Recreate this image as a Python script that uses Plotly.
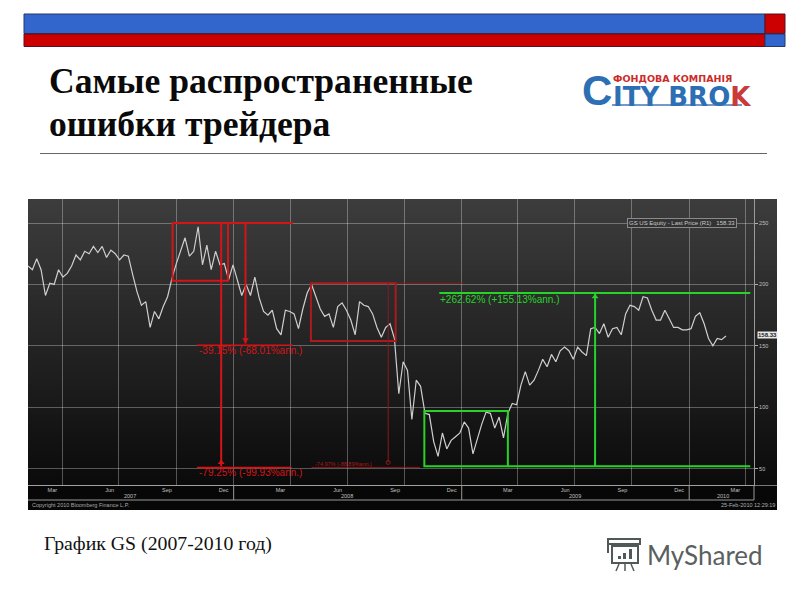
import pandas as pd
import plotly.graph_objects as go

W, H = 800, 600

# Weekly closing prices (GS US Equity)
week_start = "2007-02-05"
prices = [
    215, 212, 221, 212, 191, 201, 200, 212, 206, 209,
    215, 224, 220, 227, 225, 231, 226, 231, 222, 228,
    225, 220, 224, 223, 208, 194, 183, 186, 165, 178,
    172, 182, 190, 205, 217, 227, 238, 223, 227, 247,
    216, 232, 212, 227, 216, 217, 204, 216, 204, 191,
    200, 191, 206, 189, 178, 175, 179, 164, 159, 179,
    178, 176, 164, 180, 193, 200, 190, 180, 174, 176,
    165, 182, 185, 179, 171, 159, 186, 183, 182, 176,
    165, 157, 165, 168, 156, 111, 137, 130, 90, 122,
    117, 95, 94, 72, 60, 79, 66, 73, 76, 79,
    88, 83, 62, 75, 86, 96, 95, 83, 92, 75,
    95, 103, 102, 118, 129, 118, 122, 130, 139, 133,
    143, 137, 146, 149, 146, 139, 149, 145, 142, 164,
    165, 160, 168, 157, 164, 165, 159, 176, 183, 182,
    179, 190, 189, 179, 171, 171, 179, 172, 165, 165,
    163, 163, 164, 174, 177, 168, 156, 150, 156, 155, 158,
]
dates = pd.date_range(week_start, periods=len(prices), freq="7D")

grid_dates = ["2007-04-01", "2007-07-01", "2007-10-01", "2008-01-01", "2008-04-01", "2008-07-01",
              "2008-10-01", "2009-01-01", "2009-04-01", "2009-07-01", "2009-10-01", "2010-01-01", "2010-04-01"]
month_dates = ["2007-03-16", "2007-06-16", "2007-09-16", "2007-12-16", "2008-03-16", "2008-06-16",
               "2008-09-16", "2008-12-16", "2009-03-16", "2009-06-16", "2009-09-16", "2009-12-16", "2010-03-16"]
month_labels = ["Mar", "Jun", "Sep", "Dec"] * 3 + ["Mar"]
year_labels = ["2007", "2008", "2009", "2010"]
year_dates = ["2007-07-19", "2008-07-01", "2009-07-01", "2010-02-25"]
year_bounds = ["2008-01-01", "2009-01-01", "2010-01-01"]
price_ticks = [50, 100, 150, 200, 250]

RED = "#d31518"
DARK_RED = "#ac1a1e"
THIN_RED = "#8a1a1c"
GREEN = "#27d327"

# (x0, x1, y0, y1, colour, width) annotation segments the analyst drew, in date/price terms
rects = [
    ("2007-09-25", "2007-12-23", 203, 250, RED, 2),
    ("2008-05-04", "2008-09-17", 154, 201, DARK_RED, 2),
    ("2008-11-02", "2009-03-16", 52, 97, GREEN, 2),
]
segments = [
    ("2007-12-23", "2008-04-05", 250, 250, RED, 2),
    ("2007-12-12", "2007-12-12", 250, 52, RED, 2),
    ("2008-01-20", "2008-01-20", 250, 152, RED, 2),
    ("2007-11-03", "2008-04-05", 150.5, 150.5, RED, 1.5),
    ("2007-11-03", "2008-04-03", 51, 51, RED, 1.5),
    ("2008-09-17", "2009-01-04", 201, 201, THIN_RED, 1),
    ("2008-09-05", "2008-09-05", 201, 55, THIN_RED, 1),
    ("2008-05-05", "2008-10-26", 51, 51, THIN_RED, 1),
    ("2009-03-16", "2010-04-09", 52, 52, GREEN, 2),
    ("2008-11-26", "2010-04-09", 193, 193, GREEN, 2),
    ("2009-08-03", "2009-08-03", 52, 193, GREEN, 2),
]

def px(x):
    return x / W

def py(y):
    return 1 - y / H

shapes = []

def paper_rect(x0, y0, x1, y1, fill, line=None, width=0, layer="below"):
    shapes.append(dict(type="rect", xref="paper", yref="paper", x0=px(x0), x1=px(x1), y0=py(y1), y1=py(y0),
                       fillcolor=fill, line=dict(color=line or fill, width=width), layer=layer))

def paper_line(x0, y0, x1, y1, color, width=1, layer="below"):
    shapes.append(dict(type="line", xref="paper", yref="paper", x0=px(x0), x1=px(x1), y0=py(y0), y1=py(y1),
                       line=dict(color=color, width=width), layer=layer))

# slide header bars
paper_rect(24, 14, 765, 33.5, "#3366cc", "#223a66", 1)
paper_rect(24, 34, 765, 46.5, "#cc0000", "#5a1020", 1)
paper_rect(765, 14, 785, 33.5, "#cc0000", "#5a1020", 1)
paper_rect(765, 34, 785, 46.5, "#3366cc", "#223a66", 1)
paper_line(40, 153.5, 767, 153.5, "#666666", 1)

# chart panel with vertical dark gradient (each strip runs to the bottom, painted in order)
STRIPS = 48
top, bottom = 199, 486
for i in range(STRIPS):
    t = i / (STRIPS - 1)
    v = int(round(60 + (11 - 60) * t))
    y0 = top + (bottom - top) * i / STRIPS
    paper_rect(28, round(y0), 777, bottom, f"rgb({v},{v},{v})")
paper_rect(28, 486, 777, 510, "#070707")
paper_line(28, 500, 754, 500, "#9a9a9a", 1)
paper_line(754, 485, 754, 500, "#9a9a9a", 1)
paper_line(754, 485.5, 777, 485.5, "#777777", 1)

# data-linked lines
for x0, x1, y0, y1, color, width in rects:
    shapes.append(dict(type="rect", xref="x", yref="y", x0=x0, x1=x1, y0=y0, y1=y1,
                       line=dict(color=color, width=width), layer="above"))
for x0, x1, y0, y1, color, width in segments:
    shapes.append(dict(type="line", xref="x", yref="y", x0=x0, x1=x1, y0=y0, y1=y1,
                       line=dict(color=color, width=width), layer="above"))
for d in year_bounds:
    shapes.append(dict(type="line", xref="x", yref="paper", x0=d, x1=d, y0=py(500), y1=py(485),
                       line=dict(color="#9a9a9a", width=1), layer="above"))

# MyShared icon
ic = "#4f5a58"
paper_rect(612, 546, 638, 563, "rgba(0,0,0,0)", ic, 2)
paper_rect(608, 539, 640, 544, "rgba(0,0,0,0)", ic, 2)
paper_line(608, 539, 608, 553, ic, 2)
for x0, y0, x1, y1 in [(618, 559, 621, 556), (623, 559, 626, 553), (629, 559, 632, 549)]:
    paper_rect(x0, y1, x1, y0, ic)
paper_line(619, 564, 616, 571, ic, 1.5)
paper_line(625, 564, 625, 571, ic, 1.5)
paper_line(631, 564, 634, 571, ic, 1.5)
# logo underline
paper_line(612, 105, 742, 105, "#3f79b8", 1.5)

fig = go.Figure()

fig.add_trace(go.Scatter(x=dates, y=prices, mode="lines", line=dict(color="#cfcfcf", width=1.2),
                         showlegend=False, hoverinfo="skip"))
# tick-label carrier on a second x axis
fig.add_trace(go.Scatter(x=month_dates, y=[None] * len(month_dates), xaxis="x2", showlegend=False, hoverinfo="skip"))
# end-point markers of the measuring tools
fig.add_trace(go.Scatter(x=["2007-12-12", "2008-01-20", "2009-08-03"], y=[55, 155, 190], mode="markers",
                         marker=dict(symbol=["triangle-up", "triangle-down", "triangle-up"], size=6,
                                     color=[RED, RED, GREEN]),
                         showlegend=False, hoverinfo="skip"))
fig.add_trace(go.Scatter(x=["2008-09-05"], y=[55], mode="markers",
                         marker=dict(symbol="circle-open", size=4, color=THIN_RED),
                         showlegend=False, hoverinfo="skip"))

anns = []

def text(x, y, s, size, color, family="Liberation Sans", anchor="left", bold=False):
    anns.append(dict(xref="paper", yref="paper", x=px(x), y=py(y), text=f"<b>{s}</b>" if bold else s,
                     showarrow=False, xanchor=anchor, yanchor="middle", align=anchor,
                     font=dict(size=size, color=color, family=family)))

def dtext(x, y, s, size, color):
    anns.append(dict(xref="x", yref="y", x=x, y=y, text=s, showarrow=False, xanchor="left", yanchor="middle",
                     font=dict(size=size, color=color, family="Liberation Sans")))

text(47, 81, "Самые распространенные", 35.6, "#0a0a0a", "Liberation Serif", bold=True)
text(47, 124, "ошибки трейдера", 35.6, "#0a0a0a", "Liberation Serif", bold=True)
text(42, 543, "График GS (2007-2010 год)", 19.8, "#111111", "Liberation Serif")
text(645, 555, "MyShared", 26, "#5a5f5f", "Lato")
# City Brok logo
text(611, 78.5, "ФОНДОВА КОМПАНІЯ", 9.5, "#cc2b2b", "DejaVu Sans", bold=True)
text(611, 97, 'ITY BRO<span style="color:#c93a3a">K</span>', 26, "#2d6fb5", "DejaVu Sans", bold=True)
text(580, 91, "C", 42, "#2d6fb5", "Liberation Sans", bold=True)

# chart annotations
dtext("2007-11-03", 146, "-39.15% (-68.01%ann.)", 10, RED)
dtext("2007-11-03", 46.5, "-79.25% (-99.93%ann.)", 10, RED)
dtext("2008-05-07", 54, "-74.97% (-88.89%ann.)", 5.5, DARK_RED)
dtext("2008-11-24", 188, "+262.62% (+155.13%ann.)", 10, GREEN)

anns.append(dict(xref="paper", yref="paper", x=px(682), y=py(222.5), xanchor="center", yanchor="middle",
                 text="GS US Equity - Last Price (R1)   158.33",
                 showarrow=False, font=dict(size=6, color="#c8c8c8", family="Liberation Sans"),
                 bordercolor="#8a8a8a", borderwidth=1, borderpad=1, bgcolor="#333333"))
anns.append(dict(xref="paper", yref="paper", x=px(757), y=py(335), xanchor="left", yanchor="middle",
                 text="<b>158.33</b>", showarrow=False,
                 font=dict(size=6, color="#222222", family="Liberation Sans"), bgcolor="#e8e8e8", borderpad=0))

for d, s in zip(year_dates, year_labels):
    anns.append(dict(xref="x", yref="paper", x=d, y=py(496), yanchor="middle", text=s, showarrow=False,
                     font=dict(size=5.5, color="#c0c0c0", family="Liberation Sans")))
text(30, 505, "Copyright 2010 Bloomberg Finance L.P.", 5.5, "#a8a8a8")
text(777, 505, "25-Feb-2010 12:29:19", 5.5, "#b0b0b0", anchor="right")

domain_x = [px(28), px(754)]
domain_y = [py(485.3), py(199)]
x_range = ["2007-02-05", "2010-04-15"]

fig.update_layout(
    width=W, height=H, margin=dict(l=0, r=0, t=0, b=0), autosize=False,
    paper_bgcolor="white", plot_bgcolor="rgba(0,0,0,0)", showlegend=False,
    shapes=shapes, annotations=anns,
    xaxis=dict(type="date", domain=domain_x, range=x_range, tickmode="array", tickvals=grid_dates,
               showticklabels=False, showgrid=True, gridcolor="rgba(255,255,255,0.30)", gridwidth=1,
               zeroline=False, showline=True, linecolor="#a0a0a0", ticks="", anchor="y"),
    xaxis2=dict(type="date", domain=domain_x, range=x_range, overlaying="x", side="bottom", anchor="y",
                tickmode="array", tickvals=month_dates, ticktext=month_labels, showgrid=False, zeroline=False,
                tickfont=dict(size=5.5, color="#c0c0c0", family="Liberation Sans"), ticks="", ticklen=0,
                showline=False),
    yaxis=dict(domain=domain_y, range=[36.4, 269.6], side="right", tickmode="array", tickvals=price_ticks,
               showgrid=True, gridcolor="rgba(255,255,255,0.30)", gridwidth=1, zeroline=False,
               tickfont=dict(size=5.5, color="#c0c0c0", family="Liberation Sans"), ticks="outside", ticklen=3,
               tickcolor="#b0b0b0", showline=True, linecolor="#9a9a9a", anchor="x"),
)

fig.write_html("out.html", config={"displayModeBar": False},
               post_script="document.body.style.margin='0';document.body.style.overflow='hidden';")
